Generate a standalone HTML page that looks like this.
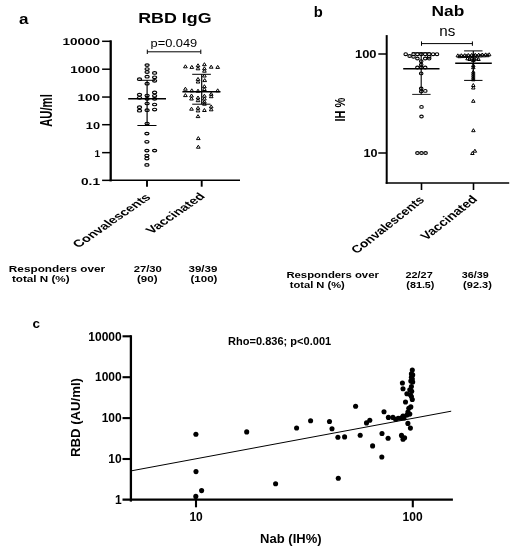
<!DOCTYPE html>
<html><head><meta charset="utf-8"><title>Figure</title>
<style>html,body{margin:0;padding:0;background:#fff}svg{display:block}text{font-family:"Liberation Sans",Arial,Helvetica,sans-serif;fill:#000}</style>
</head><body>
<svg width="515" height="550" viewBox="0 0 515 550">
<rect width="515" height="550" fill="#fff"/>
<text transform="translate(19,24) scale(1.1388,1)" font-size="15" font-weight="bold" text-anchor="start">a</text>
<text transform="translate(138.2,22.8) scale(1.2754,1)" font-size="14" font-weight="bold" text-anchor="start">RBD IgG</text>
<text transform="translate(150.5,46.7) scale(1.2121,1)" font-size="10.6" font-weight="normal" text-anchor="start">p=0.049</text>
<line x1="147.3" y1="51.8" x2="200.8" y2="51.8" stroke="#000" stroke-width="1" stroke-linecap="butt"/>
<line x1="147.3" y1="49.6" x2="147.3" y2="54" stroke="#000" stroke-width="1" stroke-linecap="butt"/>
<line x1="200.8" y1="49.6" x2="200.8" y2="54" stroke="#000" stroke-width="1" stroke-linecap="butt"/>
<line x1="110.7" y1="40.3" x2="110.7" y2="181.4" stroke="#000" stroke-width="2.3" stroke-linecap="butt"/>
<line x1="109.6" y1="180.35" x2="240" y2="180.35" stroke="#000" stroke-width="1.5" stroke-linecap="butt"/>
<line x1="102.1" y1="41.3" x2="110.7" y2="41.3" stroke="#000" stroke-width="1.5" stroke-linecap="butt"/>
<line x1="102.1" y1="69.2" x2="110.7" y2="69.2" stroke="#000" stroke-width="1.5" stroke-linecap="butt"/>
<line x1="102.1" y1="97.05" x2="110.7" y2="97.05" stroke="#000" stroke-width="1.5" stroke-linecap="butt"/>
<line x1="102.1" y1="124.7" x2="110.7" y2="124.7" stroke="#000" stroke-width="1.5" stroke-linecap="butt"/>
<line x1="102.1" y1="152.65" x2="110.7" y2="152.65" stroke="#000" stroke-width="1.5" stroke-linecap="butt"/>
<line x1="102.1" y1="180.35" x2="110.7" y2="180.35" stroke="#000" stroke-width="1.5" stroke-linecap="butt"/>
<line x1="147" y1="180.35" x2="147" y2="186.7" stroke="#000" stroke-width="1.9" stroke-linecap="butt"/>
<line x1="201.7" y1="180.35" x2="201.7" y2="186.7" stroke="#000" stroke-width="1.9" stroke-linecap="butt"/>
<text transform="translate(62.4,45.4) scale(1.3521,1)" font-size="10.0" font-weight="bold" text-anchor="start" text-rendering="geometricPrecision">10000</text>
<text transform="translate(70.2,73.3) scale(1.3396,1)" font-size="10.0" font-weight="bold" text-anchor="start" text-rendering="geometricPrecision">1000</text>
<text transform="translate(77.5,101.14999999999999) scale(1.3486,1)" font-size="10.0" font-weight="bold" text-anchor="start" text-rendering="geometricPrecision">100</text>
<text transform="translate(85.8,128.8) scale(1.2766,1)" font-size="10.0" font-weight="bold" text-anchor="start" text-rendering="geometricPrecision">10</text>
<text transform="translate(94.4,156.75) scale(1.0069,1)" font-size="10.0" font-weight="bold" text-anchor="start" text-rendering="geometricPrecision">1</text>
<text transform="translate(81,184.65) scale(1.3668,1)" font-size="10.0" font-weight="bold" text-anchor="start" text-rendering="geometricPrecision">0.1</text>
<text transform="translate(51.8,126.8) scale(1.42,1) rotate(-90) scale(0.9985,1)" font-size="11.3" font-weight="bold" text-anchor="start">AU/ml</text>
<line x1="128.2" y1="98.8" x2="166" y2="98.8" stroke="#000" stroke-width="1.55" stroke-linecap="butt"/>
<line x1="147.1" y1="80.3" x2="147.1" y2="125.2" stroke="#000" stroke-width="1.2" stroke-linecap="butt"/>
<line x1="138.8" y1="80.3" x2="155.1" y2="80.3" stroke="#000" stroke-width="1" stroke-linecap="butt"/>
<line x1="137.4" y1="125.5" x2="156.5" y2="125.5" stroke="#000" stroke-width="1" stroke-linecap="butt"/>
<ellipse cx="147.1" cy="65.1" rx="2.1" ry="1.3" fill="none" stroke="#000" stroke-width="1.15"/>
<ellipse cx="147.1" cy="69.1" rx="2.1" ry="1.3" fill="none" stroke="#000" stroke-width="1.15"/>
<ellipse cx="147.1" cy="72.1" rx="2.1" ry="1.3" fill="none" stroke="#000" stroke-width="1.15"/>
<ellipse cx="147.1" cy="76.7" rx="2.1" ry="1.3" fill="none" stroke="#000" stroke-width="1.15"/>
<ellipse cx="147.1" cy="83.7" rx="2.1" ry="1.3" fill="none" stroke="#000" stroke-width="1.15"/>
<ellipse cx="147.1" cy="95.5" rx="2.1" ry="1.3" fill="none" stroke="#000" stroke-width="1.15"/>
<ellipse cx="147.1" cy="98.8" rx="2.1" ry="1.3" fill="none" stroke="#000" stroke-width="1.15"/>
<ellipse cx="147.1" cy="103.5" rx="2.1" ry="1.3" fill="none" stroke="#000" stroke-width="1.15"/>
<ellipse cx="147.1" cy="110.2" rx="2.1" ry="1.3" fill="none" stroke="#000" stroke-width="1.15"/>
<ellipse cx="147.1" cy="123.6" rx="2.1" ry="1.3" fill="none" stroke="#000" stroke-width="1.15"/>
<ellipse cx="154.6" cy="72.9" rx="2.1" ry="1.3" fill="none" stroke="#000" stroke-width="1.15"/>
<ellipse cx="154.6" cy="77.3" rx="2.1" ry="1.3" fill="none" stroke="#000" stroke-width="1.15"/>
<ellipse cx="154.6" cy="80.8" rx="2.1" ry="1.3" fill="none" stroke="#000" stroke-width="1.15"/>
<ellipse cx="154.6" cy="92.4" rx="2.1" ry="1.3" fill="none" stroke="#000" stroke-width="1.15"/>
<ellipse cx="154.6" cy="95.8" rx="2.1" ry="1.3" fill="none" stroke="#000" stroke-width="1.15"/>
<ellipse cx="154.6" cy="98.8" rx="2.1" ry="1.3" fill="none" stroke="#000" stroke-width="1.15"/>
<ellipse cx="154.6" cy="104.5" rx="2.1" ry="1.3" fill="none" stroke="#000" stroke-width="1.15"/>
<ellipse cx="154.6" cy="109.6" rx="2.1" ry="1.3" fill="none" stroke="#000" stroke-width="1.15"/>
<ellipse cx="139.5" cy="79.2" rx="2.1" ry="1.3" fill="none" stroke="#000" stroke-width="1.15"/>
<ellipse cx="139.5" cy="94.7" rx="2.1" ry="1.3" fill="none" stroke="#000" stroke-width="1.15"/>
<ellipse cx="139.5" cy="97.8" rx="2.1" ry="1.3" fill="none" stroke="#000" stroke-width="1.15"/>
<ellipse cx="139.5" cy="107.2" rx="2.1" ry="1.3" fill="none" stroke="#000" stroke-width="1.15"/>
<ellipse cx="139.5" cy="110.7" rx="2.1" ry="1.3" fill="none" stroke="#000" stroke-width="1.15"/>
<ellipse cx="146.9" cy="133.6" rx="2.1" ry="1.3" fill="none" stroke="#000" stroke-width="1.15"/>
<ellipse cx="146.9" cy="141.8" rx="2.1" ry="1.3" fill="none" stroke="#000" stroke-width="1.15"/>
<ellipse cx="146.9" cy="150.6" rx="2.1" ry="1.3" fill="none" stroke="#000" stroke-width="1.15"/>
<ellipse cx="146.9" cy="155.5" rx="2.1" ry="1.3" fill="none" stroke="#000" stroke-width="1.15"/>
<ellipse cx="146.9" cy="158.5" rx="2.1" ry="1.3" fill="none" stroke="#000" stroke-width="1.15"/>
<ellipse cx="146.9" cy="164.9" rx="2.1" ry="1.3" fill="none" stroke="#000" stroke-width="1.15"/>
<ellipse cx="154.6" cy="150.6" rx="2.1" ry="1.3" fill="none" stroke="#000" stroke-width="1.15"/>
<line x1="182.4" y1="91.7" x2="220.5" y2="91.7" stroke="#000" stroke-width="1.55" stroke-linecap="butt"/>
<line x1="201.7" y1="74.3" x2="201.7" y2="104.2" stroke="#000" stroke-width="1.2" stroke-linecap="butt"/>
<line x1="192.2" y1="74.3" x2="210.9" y2="74.3" stroke="#000" stroke-width="1" stroke-linecap="butt"/>
<line x1="192.2" y1="104.2" x2="210.5" y2="104.2" stroke="#000" stroke-width="1" stroke-linecap="butt"/>
<path d="M183.55 67.80L185.40 64.80L187.25 67.80Z" fill="none" stroke="#000" stroke-width="1.0" stroke-linejoin="round"/>
<path d="M189.95 68.40L191.80 65.40L193.65 68.40Z" fill="none" stroke="#000" stroke-width="1.0" stroke-linejoin="round"/>
<path d="M196.15 66.80L198.00 63.80L199.85 66.80Z" fill="none" stroke="#000" stroke-width="1.0" stroke-linejoin="round"/>
<path d="M196.15 69.80L198.00 66.80L199.85 69.80Z" fill="none" stroke="#000" stroke-width="1.0" stroke-linejoin="round"/>
<path d="M202.55 65.70L204.40 62.70L206.25 65.70Z" fill="none" stroke="#000" stroke-width="1.0" stroke-linejoin="round"/>
<path d="M202.55 69.80L204.40 66.80L206.25 69.80Z" fill="none" stroke="#000" stroke-width="1.0" stroke-linejoin="round"/>
<path d="M202.55 72.20L204.40 69.20L206.25 72.20Z" fill="none" stroke="#000" stroke-width="1.0" stroke-linejoin="round"/>
<path d="M209.35 68.20L211.20 65.20L213.05 68.20Z" fill="none" stroke="#000" stroke-width="1.0" stroke-linejoin="round"/>
<path d="M215.85 68.40L217.70 65.40L219.55 68.40Z" fill="none" stroke="#000" stroke-width="1.0" stroke-linejoin="round"/>
<path d="M202.55 77.00L204.40 74.00L206.25 77.00Z" fill="none" stroke="#000" stroke-width="1.0" stroke-linejoin="round"/>
<path d="M196.15 80.40L198.00 77.40L199.85 80.40Z" fill="none" stroke="#000" stroke-width="1.0" stroke-linejoin="round"/>
<path d="M196.15 83.00L198.00 80.00L199.85 83.00Z" fill="none" stroke="#000" stroke-width="1.0" stroke-linejoin="round"/>
<path d="M202.85 81.60L204.70 78.60L206.55 81.60Z" fill="none" stroke="#000" stroke-width="1.0" stroke-linejoin="round"/>
<path d="M202.55 87.70L204.40 84.70L206.25 87.70Z" fill="none" stroke="#000" stroke-width="1.0" stroke-linejoin="round"/>
<path d="M202.55 90.50L204.40 87.50L206.25 90.50Z" fill="none" stroke="#000" stroke-width="1.0" stroke-linejoin="round"/>
<path d="M183.55 90.20L185.40 87.20L187.25 90.20Z" fill="none" stroke="#000" stroke-width="1.0" stroke-linejoin="round"/>
<path d="M189.95 91.80L191.80 88.80L193.65 91.80Z" fill="none" stroke="#000" stroke-width="1.0" stroke-linejoin="round"/>
<path d="M196.15 92.20L198.00 89.20L199.85 92.20Z" fill="none" stroke="#000" stroke-width="1.0" stroke-linejoin="round"/>
<path d="M215.85 91.80L217.70 88.80L219.55 91.80Z" fill="none" stroke="#000" stroke-width="1.0" stroke-linejoin="round"/>
<path d="M209.35 95.30L211.20 92.30L213.05 95.30Z" fill="none" stroke="#000" stroke-width="1.0" stroke-linejoin="round"/>
<path d="M209.35 97.70L211.20 94.70L213.05 97.70Z" fill="none" stroke="#000" stroke-width="1.0" stroke-linejoin="round"/>
<path d="M183.55 96.60L185.40 93.60L187.25 96.60Z" fill="none" stroke="#000" stroke-width="1.0" stroke-linejoin="round"/>
<path d="M189.65 97.00L191.50 94.00L193.35 97.00Z" fill="none" stroke="#000" stroke-width="1.0" stroke-linejoin="round"/>
<path d="M189.65 100.00L191.50 97.00L193.35 100.00Z" fill="none" stroke="#000" stroke-width="1.0" stroke-linejoin="round"/>
<path d="M196.15 99.00L198.00 96.00L199.85 99.00Z" fill="none" stroke="#000" stroke-width="1.0" stroke-linejoin="round"/>
<path d="M196.15 101.70L198.00 98.70L199.85 101.70Z" fill="none" stroke="#000" stroke-width="1.0" stroke-linejoin="round"/>
<path d="M202.55 97.20L204.40 94.20L206.25 97.20Z" fill="none" stroke="#000" stroke-width="1.0" stroke-linejoin="round"/>
<path d="M202.55 100.00L204.40 97.00L206.25 100.00Z" fill="none" stroke="#000" stroke-width="1.0" stroke-linejoin="round"/>
<path d="M202.55 103.10L204.40 100.10L206.25 103.10Z" fill="none" stroke="#000" stroke-width="1.0" stroke-linejoin="round"/>
<path d="M202.55 105.20L204.40 102.20L206.25 105.20Z" fill="none" stroke="#000" stroke-width="1.0" stroke-linejoin="round"/>
<path d="M209.35 107.90L211.20 104.90L213.05 107.90Z" fill="none" stroke="#000" stroke-width="1.0" stroke-linejoin="round"/>
<path d="M209.35 110.80L211.20 107.80L213.05 110.80Z" fill="none" stroke="#000" stroke-width="1.0" stroke-linejoin="round"/>
<path d="M189.65 110.20L191.50 107.20L193.35 110.20Z" fill="none" stroke="#000" stroke-width="1.0" stroke-linejoin="round"/>
<path d="M196.15 109.20L198.00 106.20L199.85 109.20Z" fill="none" stroke="#000" stroke-width="1.0" stroke-linejoin="round"/>
<path d="M196.15 111.90L198.00 108.90L199.85 111.90Z" fill="none" stroke="#000" stroke-width="1.0" stroke-linejoin="round"/>
<path d="M202.55 111.50L204.40 108.50L206.25 111.50Z" fill="none" stroke="#000" stroke-width="1.0" stroke-linejoin="round"/>
<path d="M196.15 117.60L198.00 114.60L199.85 117.60Z" fill="none" stroke="#000" stroke-width="1.0" stroke-linejoin="round"/>
<path d="M196.45 139.60L198.30 136.60L200.15 139.60Z" fill="none" stroke="#000" stroke-width="1.0" stroke-linejoin="round"/>
<path d="M196.45 148.20L198.30 145.20L200.15 148.20Z" fill="none" stroke="#000" stroke-width="1.0" stroke-linejoin="round"/>
<text transform="translate(151.6,198) scale(1.45,1) rotate(-45) scale(1.0000,1)" font-size="10.1" font-weight="bold" text-anchor="end">Convalescents</text>
<text transform="translate(205.8,197) scale(1.45,1) rotate(-45) scale(1.0000,1)" font-size="10.1" font-weight="bold" text-anchor="end">Vaccinated</text>
<text transform="translate(8.8,272.2) scale(1.2826,1)" font-size="9.2" font-weight="bold" text-anchor="start">Responders over</text>
<text transform="translate(11.9,281.8) scale(1.2708,1)" font-size="9.2" font-weight="bold" text-anchor="start">total N (%)</text>
<text transform="translate(133.7,272.2) scale(1.2249,1)" font-size="9.2" font-weight="bold" text-anchor="start">27/30</text>
<text transform="translate(137,281.8) scale(1.2591,1)" font-size="9.2" font-weight="bold" text-anchor="start">(90)</text>
<text transform="translate(188.5,272.2) scale(1.2553,1)" font-size="9.2" font-weight="bold" text-anchor="start">39/39</text>
<text transform="translate(190.5,281.8) scale(1.2572,1)" font-size="9.2" font-weight="bold" text-anchor="start">(100)</text>
<text transform="translate(313.7,16.7) scale(1.0524,1)" font-size="14" font-weight="bold" text-anchor="start">b</text>
<text transform="translate(431.5,16.1) scale(1.2402,1)" font-size="14" font-weight="bold" text-anchor="start">Nab</text>
<text transform="translate(439.3,36.3) scale(1.0821,1)" font-size="14" font-weight="normal" text-anchor="start">ns</text>
<line x1="421.5" y1="43.6" x2="472.4" y2="43.6" stroke="#000" stroke-width="1" stroke-linecap="butt"/>
<line x1="421.5" y1="41.4" x2="421.5" y2="45.8" stroke="#000" stroke-width="1" stroke-linecap="butt"/>
<line x1="472.4" y1="41.4" x2="472.4" y2="45.8" stroke="#000" stroke-width="1" stroke-linecap="butt"/>
<line x1="386.7" y1="35.1" x2="386.7" y2="183.8" stroke="#000" stroke-width="2" stroke-linecap="butt"/>
<line x1="385.7" y1="183.1" x2="509.2" y2="183.1" stroke="#000" stroke-width="1.5" stroke-linecap="butt"/>
<line x1="378.3" y1="54.0" x2="386.8" y2="54.0" stroke="#000" stroke-width="1.5" stroke-linecap="butt"/>
<line x1="378.3" y1="153" x2="386.8" y2="153" stroke="#000" stroke-width="1.5" stroke-linecap="butt"/>
<line x1="421.5" y1="183.1" x2="421.5" y2="190" stroke="#000" stroke-width="1.6" stroke-linecap="butt"/>
<line x1="473.5" y1="183.1" x2="473.5" y2="190" stroke="#000" stroke-width="1.6" stroke-linecap="butt"/>
<text transform="translate(355,57.6) scale(1.2946,1)" font-size="10" font-weight="bold" text-anchor="start">100</text>
<text transform="translate(363.6,156.6) scale(1.2586,1)" font-size="10" font-weight="bold" text-anchor="start">10</text>
<text transform="translate(345.2,121.6) scale(1.38,1) rotate(-90) scale(0.9985,1)" font-size="11" font-weight="bold" text-anchor="start">IH %</text>
<line x1="403.2" y1="68.7" x2="439.5" y2="68.7" stroke="#000" stroke-width="1.55" stroke-linecap="butt"/>
<line x1="421.2" y1="52.7" x2="421.2" y2="94.4" stroke="#000" stroke-width="1.1" stroke-linecap="butt"/>
<line x1="412.2" y1="94.4" x2="430.6" y2="94.4" stroke="#000" stroke-width="0.9" stroke-linecap="butt"/>
<line x1="411.8" y1="52.7" x2="430.6" y2="52.7" stroke="#000" stroke-width="0.9" stroke-linecap="butt"/>
<ellipse cx="405.7" cy="54.2" rx="1.75" ry="1.4" fill="none" stroke="#000" stroke-width="1.1"/>
<ellipse cx="413.5" cy="54.2" rx="1.75" ry="1.4" fill="none" stroke="#000" stroke-width="1.1"/>
<ellipse cx="417.4" cy="54.2" rx="1.75" ry="1.4" fill="none" stroke="#000" stroke-width="1.1"/>
<ellipse cx="421.2" cy="54.2" rx="1.75" ry="1.4" fill="none" stroke="#000" stroke-width="1.1"/>
<ellipse cx="425.2" cy="54.2" rx="1.75" ry="1.4" fill="none" stroke="#000" stroke-width="1.1"/>
<ellipse cx="429.2" cy="54.2" rx="1.75" ry="1.4" fill="none" stroke="#000" stroke-width="1.1"/>
<ellipse cx="433.1" cy="54.2" rx="1.75" ry="1.4" fill="none" stroke="#000" stroke-width="1.1"/>
<ellipse cx="437.0" cy="54.2" rx="1.75" ry="1.4" fill="none" stroke="#000" stroke-width="1.1"/>
<ellipse cx="409.6" cy="56.0" rx="1.75" ry="1.4" fill="none" stroke="#000" stroke-width="1.1"/>
<ellipse cx="413.5" cy="56.7" rx="1.75" ry="1.4" fill="none" stroke="#000" stroke-width="1.1"/>
<ellipse cx="429.2" cy="56.7" rx="1.75" ry="1.4" fill="none" stroke="#000" stroke-width="1.1"/>
<ellipse cx="417.4" cy="58.5" rx="1.75" ry="1.4" fill="none" stroke="#000" stroke-width="1.1"/>
<ellipse cx="425.2" cy="58.5" rx="1.75" ry="1.4" fill="none" stroke="#000" stroke-width="1.1"/>
<ellipse cx="429.2" cy="58.6" rx="1.75" ry="1.4" fill="none" stroke="#000" stroke-width="1.1"/>
<ellipse cx="421.2" cy="61.2" rx="1.75" ry="1.4" fill="none" stroke="#000" stroke-width="1.1"/>
<ellipse cx="421.2" cy="64.7" rx="1.75" ry="1.4" fill="none" stroke="#000" stroke-width="1.1"/>
<ellipse cx="417.4" cy="67.5" rx="1.75" ry="1.4" fill="none" stroke="#000" stroke-width="1.1"/>
<ellipse cx="421.2" cy="67.5" rx="1.75" ry="1.4" fill="none" stroke="#000" stroke-width="1.1"/>
<ellipse cx="425.2" cy="67.5" rx="1.75" ry="1.4" fill="none" stroke="#000" stroke-width="1.1"/>
<ellipse cx="421.2" cy="73.4" rx="1.75" ry="1.4" fill="none" stroke="#000" stroke-width="1.1"/>
<ellipse cx="421.2" cy="88.5" rx="1.75" ry="1.4" fill="none" stroke="#000" stroke-width="1.1"/>
<ellipse cx="421.2" cy="91.4" rx="1.75" ry="1.4" fill="none" stroke="#000" stroke-width="1.1"/>
<ellipse cx="425.3" cy="90.9" rx="1.75" ry="1.4" fill="none" stroke="#000" stroke-width="1.1"/>
<ellipse cx="421.5" cy="106.9" rx="1.75" ry="1.4" fill="none" stroke="#000" stroke-width="1.1"/>
<ellipse cx="421.5" cy="116.5" rx="1.75" ry="1.4" fill="none" stroke="#000" stroke-width="1.1"/>
<ellipse cx="417.4" cy="153" rx="1.75" ry="1.4" fill="none" stroke="#000" stroke-width="1.1"/>
<ellipse cx="421.5" cy="153" rx="1.75" ry="1.4" fill="none" stroke="#000" stroke-width="1.1"/>
<ellipse cx="425.6" cy="153" rx="1.75" ry="1.4" fill="none" stroke="#000" stroke-width="1.1"/>
<line x1="455.2" y1="63.3" x2="491.8" y2="63.3" stroke="#000" stroke-width="1.55" stroke-linecap="butt"/>
<line x1="473.3" y1="50.9" x2="473.3" y2="80.4" stroke="#000" stroke-width="1.2" stroke-linecap="butt"/>
<line x1="464.1" y1="50.9" x2="482.5" y2="50.9" stroke="#000" stroke-width="1" stroke-linecap="butt"/>
<line x1="464.1" y1="80.4" x2="482.5" y2="80.4" stroke="#000" stroke-width="1" stroke-linecap="butt"/>
<path d="M456.05 56.85L457.80 53.85L459.55 56.85Z" fill="none" stroke="#000" stroke-width="1.0" stroke-linejoin="round"/>
<path d="M457.79 57.69L459.54 54.69L461.29 57.69Z" fill="none" stroke="#000" stroke-width="1.0" stroke-linejoin="round"/>
<path d="M459.54 56.73L461.29 53.73L463.04 56.73Z" fill="none" stroke="#000" stroke-width="1.0" stroke-linejoin="round"/>
<path d="M461.28 57.57L463.03 54.57L464.78 57.57Z" fill="none" stroke="#000" stroke-width="1.0" stroke-linejoin="round"/>
<path d="M463.03 56.61L464.78 53.61L466.53 56.61Z" fill="none" stroke="#000" stroke-width="1.0" stroke-linejoin="round"/>
<path d="M464.77 57.44L466.52 54.44L468.27 57.44Z" fill="none" stroke="#000" stroke-width="1.0" stroke-linejoin="round"/>
<path d="M466.52 56.48L468.27 53.48L470.02 56.48Z" fill="none" stroke="#000" stroke-width="1.0" stroke-linejoin="round"/>
<path d="M468.26 57.32L470.01 54.32L471.76 57.32Z" fill="none" stroke="#000" stroke-width="1.0" stroke-linejoin="round"/>
<path d="M470.01 56.36L471.76 53.36L473.51 56.36Z" fill="none" stroke="#000" stroke-width="1.0" stroke-linejoin="round"/>
<path d="M471.75 57.20L473.50 54.20L475.25 57.20Z" fill="none" stroke="#000" stroke-width="1.0" stroke-linejoin="round"/>
<path d="M473.49 56.24L475.24 53.24L476.99 56.24Z" fill="none" stroke="#000" stroke-width="1.0" stroke-linejoin="round"/>
<path d="M475.24 57.08L476.99 54.08L478.74 57.08Z" fill="none" stroke="#000" stroke-width="1.0" stroke-linejoin="round"/>
<path d="M476.98 56.12L478.73 53.12L480.48 56.12Z" fill="none" stroke="#000" stroke-width="1.0" stroke-linejoin="round"/>
<path d="M478.73 56.96L480.48 53.96L482.23 56.96Z" fill="none" stroke="#000" stroke-width="1.0" stroke-linejoin="round"/>
<path d="M480.47 55.99L482.22 52.99L483.97 55.99Z" fill="none" stroke="#000" stroke-width="1.0" stroke-linejoin="round"/>
<path d="M482.22 56.83L483.97 53.83L485.72 56.83Z" fill="none" stroke="#000" stroke-width="1.0" stroke-linejoin="round"/>
<path d="M483.96 55.87L485.71 52.87L487.46 55.87Z" fill="none" stroke="#000" stroke-width="1.0" stroke-linejoin="round"/>
<path d="M485.71 56.71L487.46 53.71L489.21 56.71Z" fill="none" stroke="#000" stroke-width="1.0" stroke-linejoin="round"/>
<path d="M487.45 55.75L489.20 52.75L490.95 55.75Z" fill="none" stroke="#000" stroke-width="1.0" stroke-linejoin="round"/>
<path d="M465.75 59.80L467.50 56.80L469.25 59.80Z" fill="none" stroke="#000" stroke-width="1.0" stroke-linejoin="round"/>
<path d="M467.95 60.50L469.70 57.50L471.45 60.50Z" fill="none" stroke="#000" stroke-width="1.0" stroke-linejoin="round"/>
<path d="M470.15 59.80L471.90 56.80L473.65 59.80Z" fill="none" stroke="#000" stroke-width="1.0" stroke-linejoin="round"/>
<path d="M472.35 60.50L474.10 57.50L475.85 60.50Z" fill="none" stroke="#000" stroke-width="1.0" stroke-linejoin="round"/>
<path d="M474.55 59.80L476.30 56.80L478.05 59.80Z" fill="none" stroke="#000" stroke-width="1.0" stroke-linejoin="round"/>
<path d="M476.75 60.50L478.50 57.50L480.25 60.50Z" fill="none" stroke="#000" stroke-width="1.0" stroke-linejoin="round"/>
<path d="M471.55 61.60L473.30 58.60L475.05 61.60Z" fill="none" stroke="#000" stroke-width="1.0" stroke-linejoin="round"/>
<path d="M471.55 66.70L473.30 63.70L475.05 66.70Z" fill="none" stroke="#000" stroke-width="1.0" stroke-linejoin="round"/>
<path d="M471.55 68.70L473.30 65.70L475.05 68.70Z" fill="none" stroke="#000" stroke-width="1.0" stroke-linejoin="round"/>
<path d="M471.55 73.20L473.30 70.20L475.05 73.20Z" fill="none" stroke="#000" stroke-width="1.0" stroke-linejoin="round"/>
<path d="M471.55 75.20L473.30 72.20L475.05 75.20Z" fill="none" stroke="#000" stroke-width="1.0" stroke-linejoin="round"/>
<path d="M471.55 77.20L473.30 74.20L475.05 77.20Z" fill="none" stroke="#000" stroke-width="1.0" stroke-linejoin="round"/>
<path d="M471.55 79.20L473.30 76.20L475.05 79.20Z" fill="none" stroke="#000" stroke-width="1.0" stroke-linejoin="round"/>
<path d="M471.55 80.80L473.30 77.80L475.05 80.80Z" fill="none" stroke="#000" stroke-width="1.0" stroke-linejoin="round"/>
<path d="M471.55 86.50L473.30 83.50L475.05 86.50Z" fill="none" stroke="#000" stroke-width="1.0" stroke-linejoin="round"/>
<path d="M471.55 89.00L473.30 86.00L475.05 89.00Z" fill="none" stroke="#000" stroke-width="1.0" stroke-linejoin="round"/>
<path d="M471.55 102.30L473.30 99.30L475.05 102.30Z" fill="none" stroke="#000" stroke-width="1.0" stroke-linejoin="round"/>
<path d="M471.65 131.70L473.40 128.70L475.15 131.70Z" fill="none" stroke="#000" stroke-width="1.0" stroke-linejoin="round"/>
<path d="M473.15 152.20L474.90 149.20L476.65 152.20Z" fill="none" stroke="#000" stroke-width="1.0" stroke-linejoin="round"/>
<path d="M470.65 154.50L472.40 151.50L474.15 154.50Z" fill="none" stroke="#000" stroke-width="1.0" stroke-linejoin="round"/>
<text transform="translate(425.2,200.5) scale(1.27,1) rotate(-45) scale(1.0000,1)" font-size="10.8" font-weight="bold" text-anchor="end">Convalescents</text>
<text transform="translate(478.2,199.9) scale(1.27,1) rotate(-45) scale(1.0000,1)" font-size="11.1" font-weight="bold" text-anchor="end">Vaccinated</text>
<text transform="translate(286.4,277.7) scale(1.2594,1)" font-size="9" font-weight="bold" text-anchor="start">Responders over</text>
<text transform="translate(289.7,287.8) scale(1.2406,1)" font-size="9" font-weight="bold" text-anchor="start">total N (%)</text>
<text transform="translate(405.5,277.7) scale(1.2077,1)" font-size="9" font-weight="bold" text-anchor="start">22/27</text>
<text transform="translate(406.3,287.8) scale(1.1995,1)" font-size="9" font-weight="bold" text-anchor="start">(81.5)</text>
<text transform="translate(461.8,277.7) scale(1.1988,1)" font-size="9" font-weight="bold" text-anchor="start">36/39</text>
<text transform="translate(463.1,287.8) scale(1.2250,1)" font-size="9" font-weight="bold" text-anchor="start">(92.3)</text>
<text x="32.4" y="328.2" font-size="13.5" font-weight="bold" letter-spacing="0.092">c</text>
<line x1="130.9" y1="335.2" x2="130.9" y2="501.6" stroke="#000" stroke-width="2.3" stroke-linecap="butt"/>
<line x1="122.5" y1="499.7" x2="452.9" y2="499.7" stroke="#000" stroke-width="2.2" stroke-linecap="butt"/>
<line x1="122.5" y1="336.3" x2="131" y2="336.3" stroke="#000" stroke-width="2.1" stroke-linecap="butt"/>
<line x1="122.5" y1="377.2" x2="131" y2="377.2" stroke="#000" stroke-width="2.1" stroke-linecap="butt"/>
<line x1="122.5" y1="418.1" x2="131" y2="418.1" stroke="#000" stroke-width="2.1" stroke-linecap="butt"/>
<line x1="122.5" y1="459" x2="131" y2="459" stroke="#000" stroke-width="2.1" stroke-linecap="butt"/>
<line x1="196" y1="499.7" x2="196" y2="507.3" stroke="#000" stroke-width="2.1" stroke-linecap="butt"/>
<line x1="412.8" y1="499.7" x2="412.8" y2="507.3" stroke="#000" stroke-width="2.1" stroke-linecap="butt"/>
<text x="121.7" y="340.5" font-size="12" font-weight="bold" text-anchor="end">10000</text>
<text x="121.7" y="381.4" font-size="12" font-weight="bold" text-anchor="end">1000</text>
<text x="121.7" y="422.3" font-size="12" font-weight="bold" text-anchor="end">100</text>
<text x="121.7" y="463.2" font-size="12" font-weight="bold" text-anchor="end">10</text>
<text x="121.7" y="504.09999999999997" font-size="12" font-weight="bold" text-anchor="end">1</text>
<text x="196.1" y="520.6" font-size="12" font-weight="bold" text-anchor="middle">10</text>
<text x="412.6" y="520.8" font-size="12" font-weight="bold" text-anchor="middle">100</text>
<text transform="translate(79.6,457) scale(1,1) rotate(-90) scale(1.0129,1)" font-size="13" font-weight="bold" text-anchor="start">RBD (AU/ml)</text>
<text x="228" y="344.6" font-size="11" font-weight="bold" letter-spacing="0.028">Rho=0.836; p&lt;0.001</text>
<text x="260" y="543.1" font-size="13" font-weight="bold" letter-spacing="0.026">Nab (IH%)</text>
<line x1="131" y1="470.9" x2="451.2" y2="411.2" stroke="#000" stroke-width="1" stroke-linecap="butt"/>
<circle cx="412.3" cy="370" r="2.55" fill="#000"/>
<circle cx="411.4" cy="373.9" r="2.55" fill="#000"/>
<circle cx="412.7" cy="374.9" r="2.55" fill="#000"/>
<circle cx="411.4" cy="377.2" r="2.55" fill="#000"/>
<circle cx="412.3" cy="379.1" r="2.55" fill="#000"/>
<circle cx="410.8" cy="381.1" r="2.55" fill="#000"/>
<circle cx="412.7" cy="382" r="2.55" fill="#000"/>
<circle cx="402.4" cy="383" r="2.55" fill="#000"/>
<circle cx="411.4" cy="386.5" r="2.55" fill="#000"/>
<circle cx="403" cy="388.8" r="2.55" fill="#000"/>
<circle cx="409.8" cy="389.8" r="2.55" fill="#000"/>
<circle cx="411.7" cy="391.2" r="2.55" fill="#000"/>
<circle cx="406.9" cy="393.7" r="2.55" fill="#000"/>
<circle cx="410.4" cy="394.7" r="2.55" fill="#000"/>
<circle cx="411.4" cy="396.6" r="2.55" fill="#000"/>
<circle cx="412.3" cy="399.5" r="2.55" fill="#000"/>
<circle cx="405.5" cy="402" r="2.55" fill="#000"/>
<circle cx="410.8" cy="406.9" r="2.55" fill="#000"/>
<circle cx="408.8" cy="408.3" r="2.55" fill="#000"/>
<circle cx="384" cy="411.7" r="2.55" fill="#000"/>
<circle cx="407.9" cy="412.1" r="2.55" fill="#000"/>
<circle cx="409.8" cy="414.1" r="2.55" fill="#000"/>
<circle cx="406.9" cy="415" r="2.55" fill="#000"/>
<circle cx="403" cy="416" r="2.55" fill="#000"/>
<circle cx="388.4" cy="417.4" r="2.55" fill="#000"/>
<circle cx="392.9" cy="417.4" r="2.55" fill="#000"/>
<circle cx="401.1" cy="418" r="2.55" fill="#000"/>
<circle cx="398.2" cy="418.3" r="2.55" fill="#000"/>
<circle cx="395.6" cy="419.3" r="2.55" fill="#000"/>
<circle cx="404" cy="418" r="2.55" fill="#000"/>
<circle cx="407.9" cy="423.4" r="2.55" fill="#000"/>
<circle cx="410.4" cy="428.1" r="2.55" fill="#000"/>
<circle cx="382" cy="433.5" r="2.55" fill="#000"/>
<circle cx="388.1" cy="438.3" r="2.55" fill="#000"/>
<circle cx="401.5" cy="435.4" r="2.55" fill="#000"/>
<circle cx="404.6" cy="437.8" r="2.55" fill="#000"/>
<circle cx="403" cy="439.3" r="2.55" fill="#000"/>
<circle cx="355.6" cy="406.3" r="2.55" fill="#000"/>
<circle cx="310.6" cy="420.8" r="2.55" fill="#000"/>
<circle cx="329.5" cy="421.5" r="2.55" fill="#000"/>
<circle cx="296.6" cy="428" r="2.55" fill="#000"/>
<circle cx="332" cy="428.7" r="2.55" fill="#000"/>
<circle cx="369.8" cy="420.3" r="2.55" fill="#000"/>
<circle cx="366.5" cy="422.9" r="2.55" fill="#000"/>
<circle cx="337.9" cy="437.3" r="2.55" fill="#000"/>
<circle cx="344.6" cy="436.9" r="2.55" fill="#000"/>
<circle cx="360.2" cy="435.2" r="2.55" fill="#000"/>
<circle cx="372.6" cy="445.9" r="2.55" fill="#000"/>
<circle cx="338.3" cy="478.3" r="2.55" fill="#000"/>
<circle cx="275.6" cy="483.7" r="2.55" fill="#000"/>
<circle cx="381.8" cy="457" r="2.55" fill="#000"/>
<circle cx="195.9" cy="434.2" r="2.55" fill="#000"/>
<circle cx="246.7" cy="431.9" r="2.55" fill="#000"/>
<circle cx="196" cy="471.6" r="2.55" fill="#000"/>
<circle cx="195.8" cy="496.4" r="2.55" fill="#000"/>
<circle cx="201.6" cy="490.6" r="2.55" fill="#000"/>
</svg>
</body></html>
